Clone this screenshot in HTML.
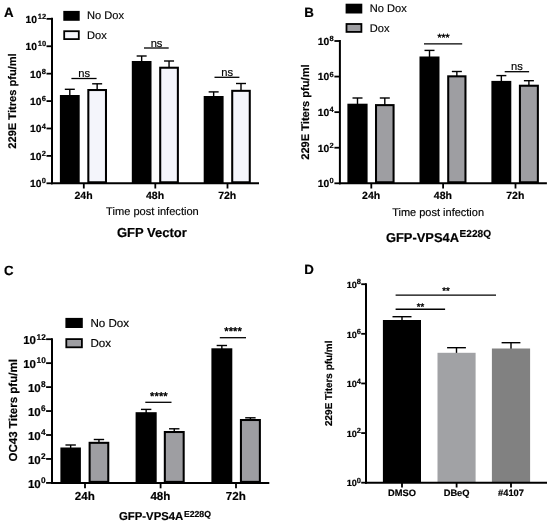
<!DOCTYPE html>
<html lang="en">
<head>
<meta charset="utf-8">
<title>Figure</title>
<style>
html,body{margin:0;padding:0;background:#fff;}
body{width:550px;height:523px;overflow:hidden;}
svg{display:block;font-family:"Liberation Sans", Arial, sans-serif;fill:#000;text-rendering:geometricPrecision;filter:blur(0.38px);}
text.b{font-weight:bold;stroke:#000;stroke-width:0.18px;}
text.s{font-weight:normal;fill:#000;stroke:#000;stroke-width:0.4px;}
text.r{font-weight:normal;fill:#000;stroke:#000;stroke-width:0.15px;}
</style>
</head>
<body>
<svg width="550" height="523" viewBox="0 0 550 523">
<rect x="0" y="0" width="550" height="523" fill="#ffffff"/>
<g id="panelA">
<text class="b" x="4.10" y="17.00" font-size="13.3" text-anchor="start">A</text>
<line x1="69.80" y1="89.30" x2="69.80" y2="96.00" stroke="#000" stroke-width="1.4"/>
<line x1="64.80" y1="89.30" x2="74.80" y2="89.30" stroke="#000" stroke-width="1.4"/>
<rect x="60.92" y="96.03" width="17.75" height="86.25" fill="#000" stroke="#000" stroke-width="2.05"/>
<line x1="97.15" y1="83.80" x2="97.15" y2="90.00" stroke="#000" stroke-width="1.4"/>
<line x1="92.15" y1="83.80" x2="102.15" y2="83.80" stroke="#000" stroke-width="1.4"/>
<rect x="88.33" y="90.03" width="17.65" height="92.25" fill="#f4f5fb" stroke="#000" stroke-width="2.05"/>
<line x1="141.65" y1="56.00" x2="141.65" y2="62.00" stroke="#000" stroke-width="1.4"/>
<line x1="136.65" y1="56.00" x2="146.65" y2="56.00" stroke="#000" stroke-width="1.4"/>
<rect x="132.83" y="62.02" width="17.65" height="120.25" fill="#000" stroke="#000" stroke-width="2.05"/>
<line x1="169.05" y1="61.00" x2="169.05" y2="67.70" stroke="#000" stroke-width="1.4"/>
<line x1="164.05" y1="61.00" x2="174.05" y2="61.00" stroke="#000" stroke-width="1.4"/>
<rect x="160.22" y="67.73" width="17.65" height="114.55" fill="#f4f5fb" stroke="#000" stroke-width="2.05"/>
<line x1="213.65" y1="91.90" x2="213.65" y2="97.00" stroke="#000" stroke-width="1.4"/>
<line x1="208.65" y1="91.90" x2="218.65" y2="91.90" stroke="#000" stroke-width="1.4"/>
<rect x="204.72" y="97.03" width="17.85" height="85.25" fill="#000" stroke="#000" stroke-width="2.05"/>
<line x1="241.00" y1="83.50" x2="241.00" y2="90.80" stroke="#000" stroke-width="1.4"/>
<line x1="236.00" y1="83.50" x2="246.00" y2="83.50" stroke="#000" stroke-width="1.4"/>
<rect x="232.22" y="90.83" width="17.55" height="91.45" fill="#f4f5fb" stroke="#000" stroke-width="2.05"/>
<line x1="52.00" y1="17.85" x2="52.00" y2="184.30" stroke="#000" stroke-width="2.0"/>
<line x1="46.50" y1="18.85" x2="52.00" y2="18.85" stroke="#000" stroke-width="1.8"/>
<text class="b" x="46.20" y="22.75" font-size="10.3" text-anchor="end">10<tspan font-size="7.5" dx="0.8999999999999999" dy="-3.8">12</tspan></text>
<line x1="46.50" y1="46.26" x2="52.00" y2="46.26" stroke="#000" stroke-width="1.8"/>
<text class="b" x="46.20" y="50.16" font-size="10.3" text-anchor="end">10<tspan font-size="7.5" dx="0.8999999999999999" dy="-3.8">10</tspan></text>
<line x1="46.50" y1="73.67" x2="52.00" y2="73.67" stroke="#000" stroke-width="1.8"/>
<text class="b" x="45.80" y="77.57" font-size="10.3" text-anchor="end">10<tspan font-size="7.5" dx="0.2" dy="-3.8">8</tspan></text>
<line x1="46.50" y1="101.08" x2="52.00" y2="101.08" stroke="#000" stroke-width="1.8"/>
<text class="b" x="45.80" y="104.98" font-size="10.3" text-anchor="end">10<tspan font-size="7.5" dx="0.2" dy="-3.8">6</tspan></text>
<line x1="46.50" y1="128.48" x2="52.00" y2="128.48" stroke="#000" stroke-width="1.8"/>
<text class="b" x="45.80" y="132.38" font-size="10.3" text-anchor="end">10<tspan font-size="7.5" dx="0.2" dy="-3.8">4</tspan></text>
<line x1="46.50" y1="155.89" x2="52.00" y2="155.89" stroke="#000" stroke-width="1.8"/>
<text class="b" x="45.80" y="159.79" font-size="10.3" text-anchor="end">10<tspan font-size="7.5" dx="0.2" dy="-3.8">2</tspan></text>
<line x1="46.50" y1="183.30" x2="52.00" y2="183.30" stroke="#000" stroke-width="1.8"/>
<text class="b" x="45.80" y="187.20" font-size="10.3" text-anchor="end">10<tspan font-size="7.5" dx="0.2" dy="-3.8">0</tspan></text>
<line x1="51.00" y1="183.30" x2="259.00" y2="183.30" stroke="#000" stroke-width="2.0"/>
<line x1="83.80" y1="183.30" x2="83.80" y2="188.50" stroke="#000" stroke-width="1.8"/>
<text class="b" x="83.50" y="198.80" font-size="10.5" text-anchor="middle">24h</text>
<line x1="155.30" y1="183.30" x2="155.30" y2="188.50" stroke="#000" stroke-width="1.8"/>
<text class="b" x="155.00" y="198.80" font-size="10.5" text-anchor="middle">48h</text>
<line x1="227.50" y1="183.30" x2="227.50" y2="188.50" stroke="#000" stroke-width="1.8"/>
<text class="b" x="227.20" y="198.80" font-size="10.5" text-anchor="middle">72h</text>
<line x1="71.40" y1="78.50" x2="96.60" y2="78.50" stroke="#000" stroke-width="1.3"/>
<text class="r" x="84.20" y="77.10" font-size="11.2" text-anchor="middle">ns</text>
<line x1="144.00" y1="48.00" x2="168.70" y2="48.00" stroke="#000" stroke-width="1.3"/>
<text class="r" x="156.55" y="46.60" font-size="11.2" text-anchor="middle">ns</text>
<line x1="214.50" y1="77.30" x2="239.40" y2="77.30" stroke="#000" stroke-width="1.3"/>
<text class="r" x="227.15" y="75.90" font-size="11.2" text-anchor="middle">ns</text>
<rect x="64.20" y="11.80" width="14.60" height="8.10" fill="#000" stroke="#000" stroke-width="1.8"/>
<rect x="64.20" y="31.20" width="14.60" height="7.90" fill="#f4f5fb" stroke="#000" stroke-width="1.8"/>
<text class="r" x="87.00" y="19.40" font-size="11.1" text-anchor="start">No Dox</text>
<text class="r" x="87.00" y="38.90" font-size="11.1" text-anchor="start">Dox</text>
<text class="r" x="152.45" y="215.30" font-size="11.1" text-anchor="middle">Time post infection</text>
<text class="b" x="151.90" y="236.50" font-size="13.0" text-anchor="middle">GFP Vector</text>
<text class="b" transform="translate(16.20,101.00) rotate(-90)" font-size="11.1" text-anchor="middle">229E Titres pfu/ml</text>
</g>
<g id="panelB">
<text class="b" x="304.20" y="16.50" font-size="13.3" text-anchor="start">B</text>
<line x1="357.50" y1="98.00" x2="357.50" y2="104.70" stroke="#000" stroke-width="1.4"/>
<line x1="352.50" y1="98.00" x2="362.50" y2="98.00" stroke="#000" stroke-width="1.4"/>
<rect x="348.42" y="104.73" width="18.15" height="77.55" fill="#000" stroke="#000" stroke-width="2.05"/>
<line x1="384.80" y1="98.00" x2="384.80" y2="105.10" stroke="#000" stroke-width="1.4"/>
<line x1="379.80" y1="98.00" x2="389.80" y2="98.00" stroke="#000" stroke-width="1.4"/>
<rect x="376.02" y="105.12" width="17.55" height="77.15" fill="#9e9ea2" stroke="#000" stroke-width="2.05"/>
<line x1="429.50" y1="50.40" x2="429.50" y2="57.50" stroke="#000" stroke-width="1.4"/>
<line x1="424.50" y1="50.40" x2="434.50" y2="50.40" stroke="#000" stroke-width="1.4"/>
<rect x="420.52" y="57.52" width="17.95" height="124.75" fill="#000" stroke="#000" stroke-width="2.05"/>
<line x1="456.85" y1="71.50" x2="456.85" y2="76.30" stroke="#000" stroke-width="1.4"/>
<line x1="451.85" y1="71.50" x2="461.85" y2="71.50" stroke="#000" stroke-width="1.4"/>
<rect x="448.22" y="76.33" width="17.25" height="105.95" fill="#9e9ea2" stroke="#000" stroke-width="2.05"/>
<line x1="501.35" y1="75.60" x2="501.35" y2="81.90" stroke="#000" stroke-width="1.4"/>
<line x1="496.35" y1="75.60" x2="506.35" y2="75.60" stroke="#000" stroke-width="1.4"/>
<rect x="492.42" y="81.93" width="17.85" height="100.35" fill="#000" stroke="#000" stroke-width="2.05"/>
<line x1="528.90" y1="80.70" x2="528.90" y2="85.70" stroke="#000" stroke-width="1.4"/>
<line x1="523.90" y1="80.70" x2="533.90" y2="80.70" stroke="#000" stroke-width="1.4"/>
<rect x="519.92" y="85.73" width="17.95" height="96.55" fill="#9e9ea2" stroke="#000" stroke-width="2.05"/>
<line x1="339.90" y1="40.00" x2="339.90" y2="184.30" stroke="#000" stroke-width="2.0"/>
<line x1="334.40" y1="41.00" x2="339.90" y2="41.00" stroke="#000" stroke-width="1.8"/>
<text class="b" x="333.70" y="44.90" font-size="10.3" text-anchor="end">10<tspan font-size="7.5" dx="0.2" dy="-3.8">8</tspan></text>
<line x1="334.40" y1="76.58" x2="339.90" y2="76.58" stroke="#000" stroke-width="1.8"/>
<text class="b" x="333.70" y="80.48" font-size="10.3" text-anchor="end">10<tspan font-size="7.5" dx="0.2" dy="-3.8">6</tspan></text>
<line x1="334.40" y1="112.15" x2="339.90" y2="112.15" stroke="#000" stroke-width="1.8"/>
<text class="b" x="333.70" y="116.05" font-size="10.3" text-anchor="end">10<tspan font-size="7.5" dx="0.2" dy="-3.8">4</tspan></text>
<line x1="334.40" y1="147.73" x2="339.90" y2="147.73" stroke="#000" stroke-width="1.8"/>
<text class="b" x="333.70" y="151.63" font-size="10.3" text-anchor="end">10<tspan font-size="7.5" dx="0.2" dy="-3.8">2</tspan></text>
<line x1="334.40" y1="183.30" x2="339.90" y2="183.30" stroke="#000" stroke-width="1.8"/>
<text class="b" x="333.70" y="187.20" font-size="10.3" text-anchor="end">10<tspan font-size="7.5" dx="0.2" dy="-3.8">0</tspan></text>
<line x1="338.90" y1="183.30" x2="546.90" y2="183.30" stroke="#000" stroke-width="2.0"/>
<line x1="371.30" y1="183.30" x2="371.30" y2="188.50" stroke="#000" stroke-width="1.8"/>
<text class="b" x="371.10" y="198.80" font-size="10.5" text-anchor="middle">24h</text>
<line x1="443.10" y1="183.30" x2="443.10" y2="188.50" stroke="#000" stroke-width="1.8"/>
<text class="b" x="442.90" y="198.80" font-size="10.5" text-anchor="middle">48h</text>
<line x1="515.50" y1="183.30" x2="515.50" y2="188.50" stroke="#000" stroke-width="1.8"/>
<text class="b" x="515.30" y="198.80" font-size="10.5" text-anchor="middle">72h</text>
<line x1="424.00" y1="43.80" x2="462.20" y2="43.80" stroke="#000" stroke-width="1.3"/>
<text class="s" x="443.50" y="41.20" font-size="10.4" text-anchor="middle">***</text>
<line x1="504.70" y1="71.70" x2="529.10" y2="71.70" stroke="#000" stroke-width="1.3"/>
<text class="r" x="516.90" y="69.90" font-size="11.2" text-anchor="middle">ns</text>
<rect x="346.50" y="4.60" width="14.90" height="8.00" fill="#000" stroke="#000" stroke-width="1.8"/>
<rect x="346.50" y="24.00" width="14.90" height="7.90" fill="#9e9ea2" stroke="#000" stroke-width="1.8"/>
<text class="r" x="369.80" y="11.90" font-size="11.1" text-anchor="start">No Dox</text>
<text class="r" x="369.80" y="31.90" font-size="11.1" text-anchor="start">Dox</text>
<text class="r" x="438.10" y="215.60" font-size="11.0" text-anchor="middle">Time post infection</text>
<text class="b" x="385.9" y="241.8" font-size="12.9">GFP-VPS4A<tspan font-size="10.1" dx="0.6" dy="-4.5">E228Q</tspan></text>
<text class="b" transform="translate(309.10,112.10) rotate(-90)" font-size="11.1" text-anchor="middle">229E Titers pfu/ml</text>
</g>
<g id="panelC">
<text class="b" x="4.10" y="274.60" font-size="13.3" text-anchor="start">C</text>
<line x1="70.65" y1="445.00" x2="70.65" y2="448.50" stroke="#000" stroke-width="1.4"/>
<line x1="65.45" y1="445.00" x2="75.85" y2="445.00" stroke="#000" stroke-width="1.4"/>
<rect x="61.42" y="448.52" width="18.45" height="33.35" fill="#000" stroke="#000" stroke-width="2.05"/>
<line x1="98.95" y1="439.50" x2="98.95" y2="442.80" stroke="#000" stroke-width="1.4"/>
<line x1="93.75" y1="439.50" x2="104.15" y2="439.50" stroke="#000" stroke-width="1.4"/>
<rect x="89.62" y="442.82" width="18.65" height="39.05" fill="#9e9ea2" stroke="#000" stroke-width="2.05"/>
<line x1="146.15" y1="409.40" x2="146.15" y2="413.20" stroke="#000" stroke-width="1.4"/>
<line x1="140.95" y1="409.40" x2="151.35" y2="409.40" stroke="#000" stroke-width="1.4"/>
<rect x="136.62" y="413.22" width="19.05" height="68.65" fill="#000" stroke="#000" stroke-width="2.05"/>
<line x1="174.25" y1="428.80" x2="174.25" y2="432.00" stroke="#000" stroke-width="1.4"/>
<line x1="169.05" y1="428.80" x2="179.45" y2="428.80" stroke="#000" stroke-width="1.4"/>
<rect x="164.83" y="432.02" width="18.85" height="49.85" fill="#9e9ea2" stroke="#000" stroke-width="2.05"/>
<line x1="221.85" y1="345.50" x2="221.85" y2="349.30" stroke="#000" stroke-width="1.4"/>
<line x1="216.65" y1="345.50" x2="227.05" y2="345.50" stroke="#000" stroke-width="1.4"/>
<rect x="212.43" y="349.32" width="18.85" height="132.55" fill="#000" stroke="#000" stroke-width="2.05"/>
<line x1="250.40" y1="417.80" x2="250.40" y2="420.00" stroke="#000" stroke-width="1.4"/>
<line x1="245.20" y1="417.80" x2="255.60" y2="417.80" stroke="#000" stroke-width="1.4"/>
<rect x="240.93" y="420.02" width="18.95" height="61.85" fill="#9e9ea2" stroke="#000" stroke-width="2.05"/>
<line x1="52.00" y1="338.20" x2="52.00" y2="483.90" stroke="#000" stroke-width="2.0"/>
<line x1="46.10" y1="339.20" x2="52.00" y2="339.20" stroke="#000" stroke-width="1.8"/>
<text class="b" x="45.80" y="343.90" font-size="11.5" text-anchor="end">10<tspan font-size="8.3" dx="0.6000000000000001" dy="-4.4">12</tspan></text>
<line x1="46.10" y1="363.15" x2="52.00" y2="363.15" stroke="#000" stroke-width="1.8"/>
<text class="b" x="45.80" y="367.85" font-size="11.5" text-anchor="end">10<tspan font-size="8.3" dx="0.6000000000000001" dy="-4.4">10</tspan></text>
<line x1="46.10" y1="387.10" x2="52.00" y2="387.10" stroke="#000" stroke-width="1.8"/>
<text class="b" x="45.60" y="391.80" font-size="11.5" text-anchor="end">10<tspan font-size="8.3" dx="0.2" dy="-4.4">8</tspan></text>
<line x1="46.10" y1="411.05" x2="52.00" y2="411.05" stroke="#000" stroke-width="1.8"/>
<text class="b" x="45.60" y="415.75" font-size="11.5" text-anchor="end">10<tspan font-size="8.3" dx="0.2" dy="-4.4">6</tspan></text>
<line x1="46.10" y1="435.00" x2="52.00" y2="435.00" stroke="#000" stroke-width="1.8"/>
<text class="b" x="45.60" y="439.70" font-size="11.5" text-anchor="end">10<tspan font-size="8.3" dx="0.2" dy="-4.4">4</tspan></text>
<line x1="46.10" y1="458.95" x2="52.00" y2="458.95" stroke="#000" stroke-width="1.8"/>
<text class="b" x="45.60" y="463.65" font-size="11.5" text-anchor="end">10<tspan font-size="8.3" dx="0.2" dy="-4.4">2</tspan></text>
<line x1="46.10" y1="482.90" x2="52.00" y2="482.90" stroke="#000" stroke-width="1.8"/>
<text class="b" x="45.60" y="487.60" font-size="11.5" text-anchor="end">10<tspan font-size="8.3" dx="0.2" dy="-4.4">0</tspan></text>
<line x1="51.00" y1="482.90" x2="269.30" y2="482.90" stroke="#000" stroke-width="2.0"/>
<line x1="85.00" y1="482.90" x2="85.00" y2="488.30" stroke="#000" stroke-width="1.8"/>
<text class="b" x="84.80" y="499.90" font-size="11.6" text-anchor="middle">24h</text>
<line x1="160.60" y1="482.90" x2="160.60" y2="488.30" stroke="#000" stroke-width="1.8"/>
<text class="b" x="160.40" y="499.90" font-size="11.6" text-anchor="middle">48h</text>
<line x1="236.00" y1="482.90" x2="236.00" y2="488.30" stroke="#000" stroke-width="1.8"/>
<text class="b" x="235.80" y="499.90" font-size="11.6" text-anchor="middle">72h</text>
<line x1="145.30" y1="402.30" x2="171.50" y2="402.30" stroke="#000" stroke-width="1.3"/>
<text class="s" x="158.90" y="399.60" font-size="11.3" text-anchor="middle">****</text>
<line x1="219.80" y1="337.70" x2="246.00" y2="337.70" stroke="#000" stroke-width="1.3"/>
<text class="s" x="233.10" y="335.10" font-size="11.3" text-anchor="middle">****</text>
<rect x="66.30" y="318.80" width="15.60" height="8.30" fill="#000" stroke="#000" stroke-width="1.8"/>
<rect x="66.30" y="339.10" width="15.60" height="8.20" fill="#9e9ea2" stroke="#000" stroke-width="1.8"/>
<text class="r" x="90.40" y="326.70" font-size="11.6" text-anchor="start">No Dox</text>
<text class="r" x="90.40" y="347.00" font-size="11.6" text-anchor="start">Dox</text>
<text class="b" x="119.0" y="520.4" font-size="11.35">GFP-VPS4A<tspan font-size="8.7" dx="0.6" dy="-3.8">E228Q</tspan></text>
<text class="b" transform="translate(17.40,410.30) rotate(-90)" font-size="11.55" text-anchor="middle">OC43 Titers pfu/ml</text>
</g>
<g id="panelD">
<text class="b" x="304.20" y="274.30" font-size="13.3" text-anchor="start">D</text>
<line x1="402.00" y1="316.70" x2="402.00" y2="321.00" stroke="#000" stroke-width="1.4"/>
<line x1="392.50" y1="316.70" x2="411.50" y2="316.70" stroke="#000" stroke-width="1.4"/>
<rect x="382.90" y="320.00" width="38.10" height="162.70" fill="#000"/>
<line x1="456.50" y1="347.70" x2="456.50" y2="353.80" stroke="#000" stroke-width="1.4"/>
<line x1="447.10" y1="347.70" x2="465.90" y2="347.70" stroke="#000" stroke-width="1.4"/>
<rect x="437.50" y="352.80" width="38.10" height="129.90" fill="#a1a2a5"/>
<line x1="511.00" y1="342.70" x2="511.00" y2="349.50" stroke="#000" stroke-width="1.4"/>
<line x1="501.60" y1="342.70" x2="520.40" y2="342.70" stroke="#000" stroke-width="1.4"/>
<rect x="491.90" y="348.50" width="38.20" height="134.20" fill="#818181"/>
<line x1="366.00" y1="283.20" x2="366.00" y2="483.70" stroke="#000" stroke-width="2.0"/>
<line x1="361.20" y1="284.20" x2="366.00" y2="284.20" stroke="#000" stroke-width="1.8"/>
<text class="b" x="360.90" y="287.90" font-size="9.1" text-anchor="end">10<tspan font-size="7.5" dx="-0.2" dy="-3.5">8</tspan></text>
<line x1="361.20" y1="333.82" x2="366.00" y2="333.82" stroke="#000" stroke-width="1.8"/>
<text class="b" x="360.90" y="337.52" font-size="9.1" text-anchor="end">10<tspan font-size="7.5" dx="-0.2" dy="-3.5">6</tspan></text>
<line x1="361.20" y1="383.45" x2="366.00" y2="383.45" stroke="#000" stroke-width="1.8"/>
<text class="b" x="360.90" y="387.15" font-size="9.1" text-anchor="end">10<tspan font-size="7.5" dx="-0.2" dy="-3.5">4</tspan></text>
<line x1="361.20" y1="433.07" x2="366.00" y2="433.07" stroke="#000" stroke-width="1.8"/>
<text class="b" x="360.90" y="436.77" font-size="9.1" text-anchor="end">10<tspan font-size="7.5" dx="-0.2" dy="-3.5">2</tspan></text>
<line x1="361.20" y1="482.70" x2="366.00" y2="482.70" stroke="#000" stroke-width="1.8"/>
<text class="b" x="360.90" y="486.40" font-size="9.1" text-anchor="end">10<tspan font-size="7.5" dx="-0.2" dy="-3.5">0</tspan></text>
<line x1="365.00" y1="482.70" x2="547.00" y2="482.70" stroke="#000" stroke-width="2.0"/>
<line x1="402.00" y1="482.70" x2="402.00" y2="487.50" stroke="#000" stroke-width="1.8"/>
<text class="b" x="402.00" y="496.40" font-size="9.3" text-anchor="middle">DMSO</text>
<line x1="456.60" y1="482.70" x2="456.60" y2="487.50" stroke="#000" stroke-width="1.8"/>
<text class="b" x="456.60" y="496.40" font-size="9.3" text-anchor="middle">DBeQ</text>
<line x1="511.00" y1="482.70" x2="511.00" y2="487.50" stroke="#000" stroke-width="1.8"/>
<text class="b" x="511.00" y="496.40" font-size="9.3" text-anchor="middle">#4107</text>
<line x1="395.60" y1="295.20" x2="496.00" y2="295.20" stroke="#000" stroke-width="1.3"/>
<text class="s" x="445.90" y="294.20" font-size="9.6" text-anchor="middle">**</text>
<line x1="395.60" y1="309.25" x2="445.10" y2="309.25" stroke="#000" stroke-width="1.3"/>
<text class="s" x="420.60" y="309.50" font-size="9.6" text-anchor="middle">**</text>
<text class="b" transform="translate(331.90,383.25) rotate(-90)" font-size="9.95" text-anchor="middle">229E Titers pfu/ml</text>
</g>
</svg>
</body>
</html>
